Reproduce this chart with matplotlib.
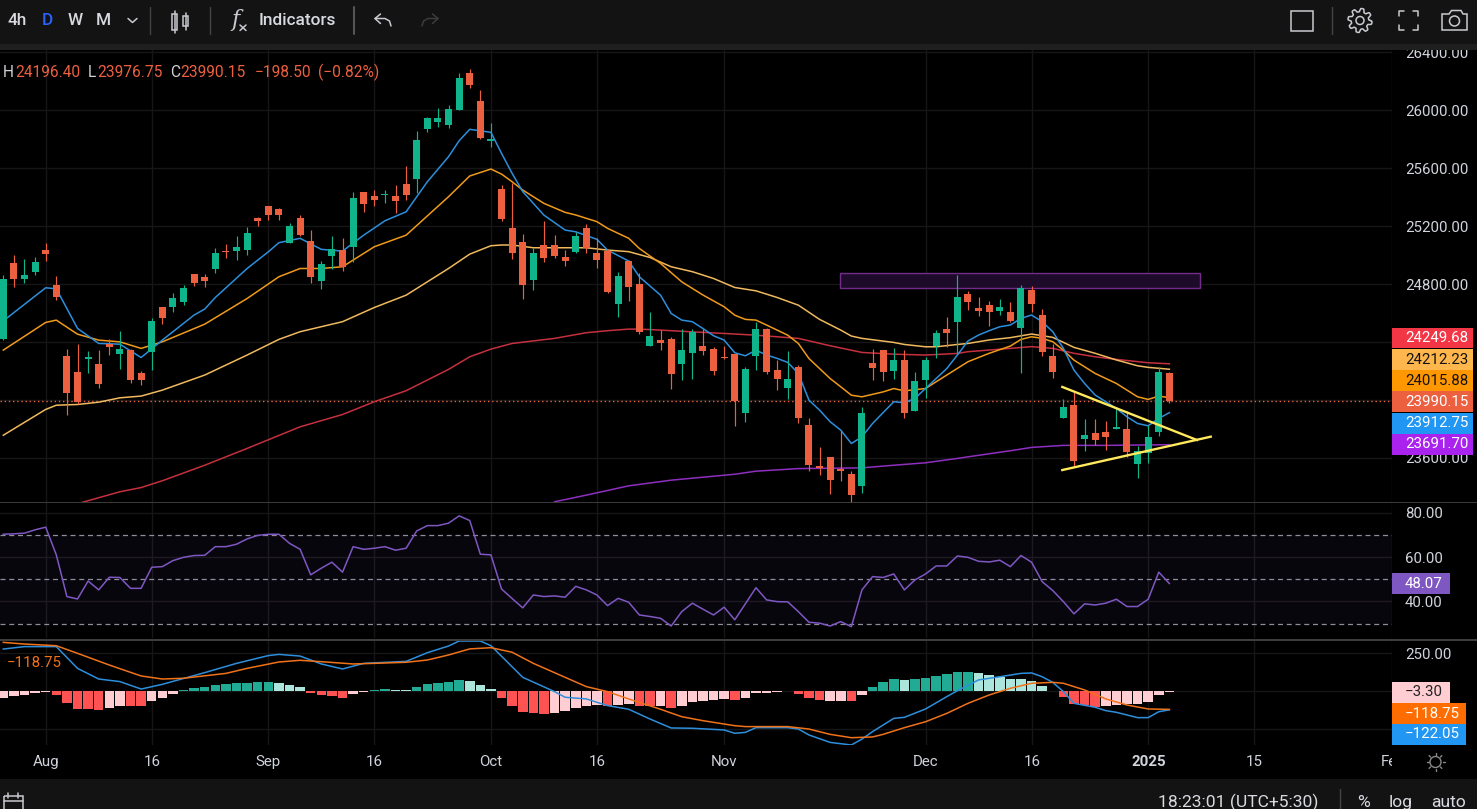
import numpy as np
import matplotlib
matplotlib.use('Agg')
import matplotlib.pyplot as plt
from matplotlib.patches import Rectangle, Circle, Polygon
from matplotlib.ticker import FormatStrFormatter

plt.rcParams['font.family'] = ['Roboto', 'DejaVu Sans']

# Daily candles, Aug 2024 to Jan 2025
opens = [24423,24943,24835,24883,25034,24793,24303,24193,24283,24248,
         24384,24320,24345,24188,24333,24641,24641,24675,24869,24848,
         24906,25027,25030,25034,25255,25338,25317,25085,25255,25097,
         24821,24993,25034,25055,25434,25407,25416,25407,25490,25524,
         25869,25917,25897,26000,26253,26062,25789,25455,25188,25089,
         24827,25068,25068,24986,25023,25186,25013,25027,24661,24958,
         24799,24372,24411,24420,24247,24326,24372,24351,24300,24316,
         23912,24305,24489,24206,24084,24227,23827,23544,23608,23527,
         23491,23406,24254,24344,24199,24275,23925,24137,24372,24489,
         24537,24729,24632,24653,24616,24607,24496,24758,24586,24303,
         23875,23965,23730,23772,23779,23799,23799,23558,23636,23779,24188.65]
highs = [24862,25000,24970,24984,25080,24855,24352,24386,24335,24345,
         24418,24474,24352,24200,24563,24641,24735,24793,24869,24869,
         25046,25074,25131,25191,25264,25338,25324,25218,25276,25170,
         24957,25131,25115,25432,25434,25448,25448,25483,25614,25853,
         25954,26012,26032,26253,26281,26138,25908,25480,25494,25142,
         25045,25234,25138,25034,25160,25211,25115,25039,24885,24965,
         24878,24604,24482,24436,24493,24487,24493,24367,24372,24316,
         24229,24540,24498,24275,24337,24240,23875,23677,23608,23787,
         23511,23953,24351,24344,24356,24344,24192,24298,24482,24569,
         24862,24752,24708,24683,24696,24676,24793,24786,24627,24386,
         24006,24055,23871,23871,23855,23942,23924,23682,23827,24225,24196.40]
lows = [24414,24782,24805,24864,24961,24690,23899,23972,24188,24085,
        24310,24216,24120,24106,24207,24523,24609,24655,24786,24777,
        24878,24981,24966,25002,25200,25241,25241,25080,25131,24809,
        24763,24901,24892,24950,25297,25338,25361,25292,25379,25425,
        25851,25885,25878,26000,26154,25802,25747,25236,24974,24700,
        24758,24953,24977,24924,25016,25016,24912,24735,24574,24684,
        24452,24372,24344,24077,24137,24144,24310,24172,24280,23820,
        23850,24206,24178,24068,24006,23843,23509,23484,23350,23442,
        23298,23360,24137,24130,24144,23877,23925,24017,24287,24367,
        24321,24620,24579,24510,24586,24536,24188,24607,24303,24154,
        23875,23540,23648,23689,23655,23799,23604,23464,23567,23753,23976.75]
closes = [24832,24835,24860,24950,25009,24713,24050,23986,24296,24112,
          24368,24352,24138,24138,24545,24565,24703,24772,24809,24823,
          25011,25018,25055,25152,25235,25276,25276,25200,25136,24848,
          24938,25039,24919,25393,25354,25379,25423,25372,25414,25793,
          25947,25945,26007,26221,26173,25807,25802,25248,25016,24792,
          25011,24981,24993,24958,25131,25050,24965,24747,24855,24781,
          24468,24441,24395,24178,24344,24470,24337,24199,24293,23992,
          24213,24489,24192,24144,24144,23875,23551,23532,23447,23509,
          23344,23909,24220,24192,24275,23912,24130,24275,24461,24461,
          24710,24678,24616,24607,24641,24545,24772,24662,24331,24193,
          23951,23579,23758,23723,23744,23813,23641,23645,23744,24193,23990.15]

# Moving averages, read at the candle indexes in *_x
blue_x = [0,4,5,7,9,11,13,15,18,19,20,23,25,26,28,30,32,34,36,38,40,42,43,44,46,47,48,49,51,53,54,56,57,59,60,62,63,64,
          65,66,67,68,69,70,71,72,73,74,75,76,77,78,79,80,81,82,84,85,86,87,89,90,91,92,93,94,95,96,97,98,99,100,
          101,102,103,104,105,106,107,108,109,110]
blue_y = [24546,24774,24767,24494,24390,24385,24293,24413,24586,24627,24707,24907,25022,25085,25115,25039,25027,25137,
          25236,25298,25505,25678,25788,25867,25846,25701,25563,25437,25275,25172,25160,25108,25034,24958,24850,24723,
          24597,24551,24540,24493,24443,24413,24326,24305,24344,24310,24287,24259,24183,23999,23930,23850,23792,23700,
          23746,23838,23988,23981,24011,24080,24217,24310,24407,24448,24478,24505,24517,24563,24586,24540,24471,24356,
          24206,24114,24034,23988,23942,23884,23838,23822,23873,23912.75]
orange_x = [0,4,5,7,9,11,13,15,19,23,26,28,30,32,35,38,42,44,46,47,48,49,51,53,54,56,57,59,60,62,64,66,68,69,70,71,72,
            74,75,76,78,79,80,81,83,84,85,87,88,90,91,93,95,96,97,98,99,100,101,103,105,107,108,109,110]
orange_y = [24344,24535,24551,24454,24413,24401,24356,24401,24523,24700,24850,24907,24907,24919,25057,25137,25402,25545,
            25593,25558,25505,25448,25356,25294,25276,25230,25184,25115,25045,24942,24815,24724,24643,24585,24556,24551,
            24517,24447,24390,24286,24148,24091,24033,24022,24056,24079,24063,24079,24126,24218,24264,24322,24372,24418,
            24436,24425,24402,24344,24275,24183,24114,24022,24004,24027,24015.88]
light_x = [0,4,5,7,9,11,13,15,19,23,26,28,32,35,38,42,44,46,47,48,50,52,55,57,59,61,63,65,67,69,71,73,75,77,79,80,81,
           84,85,87,88,90,91,93,95,97,99,101,103,105,107,108,110]
light_y = [23757,23935,23964,23969,23985,24015,24027,24068,24172,24310,24418,24471,24540,24638,24723,24907,25006,25064,
           25069,25069,25050,25050,25050,25034,25023,24983,24919,24885,24838,24776,24753,24707,24654,24556,24482,24441,
           24425,24397,24383,24367,24367,24383,24390,24414,24430,24455,24432,24363,24322,24276,24236,24225,24212.23]
red_x = [7,11,13,15,19,23,28,32,35,38,42,44,46,48,52,55,57,59,60,62,65,68,71,75,78,81,84,87,90,91,95,97,99,101,103,105,108,110]
red_y = [23285,23367,23396,23443,23550,23666,23815,23900,23988,24064,24211,24298,24351,24390,24425,24464,24478,24489,
         24489,24482,24470,24459,24447,24425,24374,24328,24316,24310,24321,24333,24356,24368,24356,24322,24298,24280,24257,24249.68]
purple_x = [52,55,59,63,69,71,75,81,84,87,90,91,95,97,100,104,110]
purple_y = [23298,23344,23408,23447,23488,23509,23527,23532,23550,23567,23597,23608,23650,23673,23687,23687,23691.70]

rsi = [70.3,70.5,70.8,72.3,73.5,61.0,42.2,41.1,49.2,45.2,50.9,50.8,45.9,45.9,55.4,55.7,58.4,59.9,60.7,60.8,
       64.7,64.7,65.8,68.2,69.8,70.3,70.3,66.2,63.5,52.0,55.0,57.7,53.2,64.7,63.5,64.0,64.7,63.1,64.0,71.8,
       74.2,74.2,75.3,78.6,76.5,61.3,61.0,45.6,41.3,37.1,42.9,42.2,42.5,41.9,46.8,45.2,42.9,38.1,41.4,39.6,
       33.9,33.2,32.4,28.9,35.4,39.2,36.5,33.9,37.4,31.7,38.9,46.2,40.7,39.9,39.8,35.4,30.6,30.2,28.9,30.9,
       28.6,45.2,51.2,50.8,52.4,45.2,49.7,52.4,56.0,56.0,60.5,59.9,58.1,57.8,58.6,55.7,60.7,57.7,48.9,44.9,
       39.9,34.4,38.9,38.4,39.2,41.0,37.7,37.7,41.0,53.2,48.07]

macd_hist = [-44,-31,-24,-13,-4,-24,-77,-116,-116,-123,-110,-96,-96,-96,-64,-46,-18,9,20,29,42,48,55,55,61,61,55,42,29,
             -11,-22,-31,-44,-20,-4,9,13,9,9,29,48,55,61,75,68,42,15,-44,-96,-136,-143,-149,-143,-129,-110,-96,-90,-96,
             -90,-83,-96,-96,-96,-110,-96,-70,-64,-57,-50,-57,-44,-11,-11,-7,4,-18,-44,-57,-64,-64,-64,-24,29,61,81,75,
             81,88,103,114,127,127,121,107,94,81,81,68,35,2,-37,-83,-90,-103,-96,-90,-83,-83,-70,-24,-3.30]
hist_kind = ("ppppp" "rrrrr" "pprrppp" "ggggggggg" "lll" "rrrr" "pp" "gg" "ll" "ggggg" "lll" "rrrrr" "ppppp" "r" "pp"
             "rr" "p" "r" "ppppp" "r" "pppp" "g" "rrr" "pp" "r" "p" "ggg" "l" "gggggg" "llllllll" "rrrr" "ppppppp")
macd_x = [0,2,5,7,9,11,13,15,19,22,25,26,28,30,32,34,38,40,42,43,45,46,49,52,53,55,57,59,61,63,65,68,69,70,71,74,75,76,
          78,80,81,82,84,85,87,89,90,92,94,96,97,98,99,100,101,103,104,105,107,108,109,110]
macd_y = [278,294,294,151,81,64,15,46,123,184,235,243,232,180,147,184,197,254,298,331,331,300,92,-2,-39,-50,-94,-118,
          -182,-241,-243,-254,-276,-270,-239,-239,-248,-287,-336,-353,-314,-265,-178,-171,-116,-35,4,75,96,118,121,96,
          59,-2,-79,-105,-127,-138,-173,-173,-134,-122.05]
signal_x = [0,2,5,7,10,13,15,17,21,23,26,28,30,33,35,38,40,42,44,46,48,50,53,55,57,59,62,64,66,69,70,74,76,78,80,82,83,
            85,87,89,91,93,95,97,99,100,102,104,106,108,110]
signal_y = [322,311,300,250,173,101,81,86,118,151,193,204,195,180,184,191,206,239,279,287,257,184,92,31,-2,-50,-118,
            -167,-193,-226,-232,-232,-248,-283,-305,-300,-283,-239,-200,-145,-79,-24,20,53,59,53,9,-50,-90,-116,-118.75]

# Time axis labels, placed on candle indexes
time_pos = [4,14,25,35,46,56,68,87,97,108,118,131]
time_labels = ['Aug','16','Sep','16','Oct','16','Nov','Dec','16','2025','15','Feb']

# Price scale ticks, the ones under value boxes have no label
price_ticks = [23600,24000,24400,24800,25200,25600,26000,26400]
price_labels = ['23600.00','','','24800.00','25200.00','25600.00','26000.00','26400.00']

# Chart drawings
zone_x = [78.9,112.9]
zone_y = [24772,24876]
wedge_top_x = [99.9,112.6]
wedge_top_y = [24090,23724]
wedge_low_x = [99.9,113.9]
wedge_low_y = [23517,23747]

UP = '#10B48A'
DOWN = '#EC6040'
GRID = '#161616'
TEXT = '#d1d4dc'
W, H = 1477, 809
PANE_R = 1392
XLIM = (-0.311, 130.95)
AXIS_FS = 10.8

fig = plt.figure(figsize=(W / 100, H / 100), dpi=100, facecolor='black')


def pane(top, bottom):
    ax = fig.add_axes([0, 1 - bottom / H, PANE_R / W, (bottom - top) / H], facecolor='black')
    ax.set_xlim(*XLIM)
    ax.set_xticks(time_pos)
    ax.tick_params(axis='both', length=0, labelbottom=False, labelleft=False, labelright=True,
                   labelsize=AXIS_FS, labelcolor=TEXT, pad=9.4)
    ax.yaxis.tick_right()
    ax.yaxis.set_major_formatter(FormatStrFormatter('%.2f'))
    ax.grid(True, color=GRID, linewidth=1)
    ax.set_axisbelow(True)
    for s in ax.spines.values():
        s.set_visible(False)
    return ax


# Price pane
ax = pane(47, 502)
ax.set_ylim(23296.5, 26434.6)
ax.set_yticks(price_ticks, labels=price_labels)
ax.axhline(closes[-1], color=DOWN, linewidth=1, linestyle=(0, (1, 2)), zorder=1)
ax.add_patch(Rectangle((zone_x[0], zone_y[0]), zone_x[1] - zone_x[0], zone_y[1] - zone_y[0],
                       facecolor='#1e0b2a', edgecolor='#742c8c', linewidth=1, zorder=1.5))
ax.plot(purple_x, purple_y, color='#8e2fc0', linewidth=1.1, zorder=2)
ax.plot(red_x, red_y, color='#c5303f', linewidth=1.1, zorder=2)
ax.plot(light_x, light_y, color='#f0b95e', linewidth=1.1, zorder=2)
ax.plot(orange_x, orange_y, color='#f09a1a', linewidth=1.1, zorder=2)
ax.plot(blue_x, blue_y, color='#2d8fdc', linewidth=1.1, zorder=2)

idx = np.arange(len(opens))
o = np.array(opens, dtype=float)
c = np.array(closes, dtype=float)
colors = [UP if a >= b else DOWN for a, b in zip(c, o)]
ax.vlines(idx, lows, highs, colors=colors, linewidth=0.85, zorder=3)
ax.bar(idx, np.maximum(np.abs(c - o), 6), bottom=np.minimum(o, c), width=0.66, color=colors, linewidth=0, zorder=4)
ax.plot(wedge_top_x, wedge_top_y, color='#ffe95c', linewidth=1.7, zorder=5)
ax.plot(wedge_low_x, wedge_low_y, color='#ffe95c', linewidth=1.7, zorder=5)

# RSI pane
ax_rsi = pane(503, 638)
ax_rsi.set_ylim(23.5, 84.4)
ax_rsi.set_yticks([40, 60, 80])
ax_rsi.axhspan(30, 70, facecolor='#7e57c2', alpha=0.07, linewidth=0)
for level in [30, 50, 70]:
    ax_rsi.axhline(level, color='#8f8c9c', linewidth=0.9, linestyle=(0, (4, 3)))
ax_rsi.plot(idx, rsi, color='#7e57c2', linewidth=1.1)

# MACD pane
ax_macd = pane(641, 745)
ax_macd.set_ylim(-353, 331)
ax_macd.set_yticks([-250, 0, 250], labels=['', '', '250.00'])
hist_colors = {'r': '#ff5252', 'p': '#ffcdd2', 'g': '#22ab94', 'l': '#ace5dc'}
ax_macd.bar(idx, macd_hist, width=0.9, color=[hist_colors[k] for k in hist_kind], linewidth=0, zorder=2)
ax_macd.plot(macd_x, macd_y, color='#2d8fdc', linewidth=1.1, zorder=3)
ax_macd.plot(signal_x, signal_y, color='#f0721a', linewidth=1.1, zorder=3)
ax_macd.text(0.005, 0.785, '−118.75', transform=ax_macd.transAxes, color='#f0721a', fontsize=AXIS_FS, va='center')

# Time axis
ax_time = fig.add_axes([0, 1 - 779 / H, PANE_R / W, 34 / H], facecolor='black')
ax_time.set_xlim(*XLIM)
ax_time.set_ylim(0, 1)
ax_time.set_axis_off()
for pos, lab in zip(time_pos, time_labels):
    ax_time.text(pos, 0.5, lab, color=TEXT, fontsize=AXIS_FS, ha='center', va='center', clip_on=True,
                 fontweight='bold' if lab == '2025' else 'normal')

# Overlay in pixel coordinates: toolbars, value boxes, legend text
ov = fig.add_axes([0, 0, 1, 1], zorder=10)
ov.set_xlim(0, W)
ov.set_ylim(H, 0)
ov.set_axis_off()
ov.patch.set_alpha(0)

ICON = '#c8cad0'
BAR = '#131313'


def line(xs, ys, color=ICON, lw=1.1):
    ov.plot(xs, ys, color=color, linewidth=lw, solid_capstyle='round', solid_joinstyle='round')


def rect(x0, y0, x1, y1, **kw):
    ov.add_patch(Rectangle((x0, y0), x1 - x0, y1 - y0, **kw))


rect(0, 0, W, 44, facecolor=BAR, linewidth=0)
rect(0, 44, W, 50, facecolor='#1f1f1f', linewidth=0)
rect(0, 779, W, H, facecolor=BAR, linewidth=0)
rect(0, 501.5, W, 502.5, facecolor='#3a3a3a', linewidth=0)
rect(0, 639, W, 641, facecolor='#3d3d3d', linewidth=0)

# Top toolbar
for x, lab, col in [(17, '4h', '#d8dae0'), (47, 'D', '#2962ff'), (75, 'W', '#d8dae0'), (103.5, 'M', '#d8dae0')]:
    ov.text(x, 20.5, lab, color=col, fontsize=12.4, ha='center', va='center', fontweight='medium')
ov.text(259, 20.5, 'Indicators', color='#d8dae0', fontsize=12.4, va='center', fontweight='medium')
line([128, 132.5, 137], [18.5, 22.5, 18.5])
for x in [150, 209.5]:
    line([x, x], [7, 34], color='#444444', lw=1)
line([353.5, 353.5], [7, 34], color='#555555', lw=1.5)
# candle icon
line([174.5, 174.5], [10.5, 32.5])
rect(172, 13.5, 177, 29.5, facecolor=BAR, edgecolor=ICON, linewidth=1.1)
line([185.5, 185.5], [13, 29.5])
rect(183, 15.5, 188, 26, facecolor=BAR, edgecolor=ICON, linewidth=1.1)
# fx icon
ov.text(235, 20, 'f', color=ICON, fontsize=16, ha='center', va='center', style='italic', family='DejaVu Serif')
line([240, 246], [25, 30.5])
line([246, 240], [25, 30.5])
# undo / redo
line([391, 389.5, 385, 375], [26, 21, 18.5, 18.5])
line([380.5, 375, 380.5], [14, 18.5, 23.5])
line([422, 423.5, 428, 438], [26, 21, 18.5, 18.5], color='#3c3c3c')
line([432.5, 438, 432.5], [14, 18.5, 23.5], color='#3c3c3c')
# right toolbar icons
rect(1290.5, 10.5, 1313, 30.5, facecolor='none', edgecolor=ICON, linewidth=1.1)
line([1331.5, 1331.5], [7, 34], color='#444444', lw=1)
gear_a = np.linspace(0, 2 * np.pi, 97)
gear_r = 10.4 + 1.7 * np.tanh(3 * np.sin(8 * gear_a))
line(1360 + gear_r * np.cos(gear_a), 20.5 + gear_r * np.sin(gear_a))
ov.add_patch(Circle((1360, 20.5), 4, facecolor='none', edgecolor=ICON, linewidth=1.1))
for sx, sy in [(1399, 10.5), (1418, 10.5), (1399, 30), (1418, 30)]:
    dx = 5 if sx == 1399 else -5
    dy = 5 if sy == 10.5 else -5
    line([sx + dx, sx, sx], [sy, sy, sy + dy])
ov.add_patch(Polygon([[1442, 14], [1449, 14], [1451.5, 10.5], [1461, 10.5], [1463, 14], [1467, 14],
                      [1467, 30], [1442, 30]], closed=True, facecolor='none', edgecolor=ICON, linewidth=1.1))
ov.add_patch(Circle((1454.5, 21), 5, facecolor='none', edgecolor=ICON, linewidth=1.1))

# OHLC legend
legend_parts = [(3, 'H', '#cfd1d6'), (15, '24196.40', DOWN), (88, 'L', '#cfd1d6'), (97, '23976.75', DOWN),
                (170, 'C', '#cfd1d6'), (180, '23990.15', DOWN), (255, '−198.50', DOWN), (318, '(−0.82%)', DOWN)]
for x, lab, col in legend_parts:
    ov.text(x, 72.5, lab, color=col, fontsize=11.2, va='center')

# Value boxes on the price scale
boxes = [(327.5, 348, 1472.5, '24249.68', '#f23645', 'white'),
         (349, 370, 1472.5, '24212.23', '#ffb74d', '#131313'),
         (370, 391, 1472.5, '24015.88', '#ff9800', '#131313'),
         (391, 412, 1472.5, '23990.15', '#ec6040', 'white'),
         (412.5, 433.5, 1472.5, '23912.75', '#2196f3', 'white'),
         (434, 454.5, 1472.5, '23691.70', '#aa22ee', 'white'),
         (573, 594, 1450, '48.07', '#7e57c2', 'white'),
         (682, 703, 1450, '−3.30', '#ffcdd2', '#222222'),
         (703, 724, 1466, '−118.75', '#ff6d00', 'white'),
         (724, 745, 1466, '−122.05', '#2196f3', 'white')]
for y0, y1, x1, lab, col, tcol in boxes:
    rect(PANE_R, y0, x1, y1, facecolor=col, linewidth=0)
    ov.text(1405, (y0 + y1) / 2, lab, color=tcol, fontsize=AXIS_FS, va='center')

# Sun icon next to the time axis
ov.add_patch(Circle((1435.5, 762), 5.5, facecolor='none', edgecolor='#8a8a8a', linewidth=1))
for a in np.linspace(0, 2 * np.pi, 8, endpoint=False):
    line([1435.5 + 7 * np.cos(a), 1435.5 + 9 * np.cos(a)], [762 + 7 * np.sin(a), 762 + 9 * np.sin(a)],
         color='#8a8a8a', lw=1)

# Bottom bar
rect(3.5, 796, 22.5, 815, facecolor='none', edgecolor=ICON, linewidth=1.1)
line([3.5, 22.5], [801, 801])
line([8, 8], [793, 798])
line([18, 18], [793, 798])
ov.text(1158, 802.5, '18:23:01 (UTC+5:30)', color='#d8dae0', fontsize=12.6, va='center')
line([1340, 1340], [789, 809], color='#444444', lw=1)
ov.text(1363, 802.5, '%', color='#d8dae0', fontsize=12.6, ha='center', va='center')
ov.text(1401, 802.5, 'log', color='#d8dae0', fontsize=12.6, ha='center', va='center')
ov.text(1449, 802.5, 'auto', color='#d8dae0', fontsize=12.6, ha='center', va='center')

fig.savefig('out.png', dpi=100, facecolor='black')
